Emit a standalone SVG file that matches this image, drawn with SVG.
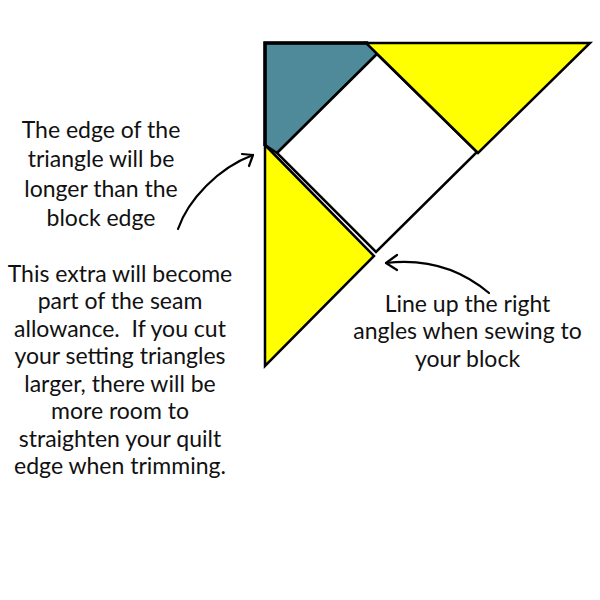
<svg xmlns="http://www.w3.org/2000/svg" width="600" height="600" viewBox="0 0 600 600">
  <style>
    .lbl { font-family: Lato, "Open Sans", "Liberation Sans", sans-serif; font-size: 23px; fill: #111; text-anchor: middle; }
    .edge { stroke: #000; stroke-width: 2.5; stroke-linejoin: miter; }
    .yellow { fill: #FFFF00; }
    .teal { fill: #4E8A9A; }
    .conn { fill: none; stroke: #000; stroke-width: 2.2; stroke-linecap: round; stroke-linejoin: round; }
  </style>
  <rect width="600" height="600" fill="#fff"/>

  <g id="corner-teal">
    <polygon class="teal edge" points="265,43 368,43 377,54 277,153 265,145"/>
  </g>
  <g id="block-square">
    <polygon fill="#fff" class="edge" points="377,54 477,152 376,252 277,153"/>
  </g>
  <g id="triangle-top">
    <polygon class="yellow edge" points="366,43 590,43 478,153"/>
  </g>
  <g id="triangle-left">
    <polygon class="yellow edge" points="265,145 374,256 265,366"/>
  </g>
  <g id="outer-frame">
    <polyline fill="none" stroke="#000" stroke-width="3.5" points="265,146 265,43 368,43"/>
  </g>

  <g id="label-edge">
    <text class="lbl" x="101" y="137.5">The edge of the</text>
    <text class="lbl" x="101" y="167">triangle will be</text>
    <text class="lbl" x="101" y="196.5">longer than the</text>
    <text class="lbl" x="101" y="226">block edge</text>
  </g>
  <g id="label-extra">
    <text class="lbl" x="120" y="281.5">This extra will become</text>
    <text class="lbl" x="120" y="309">part of the seam</text>
    <text class="lbl" x="120" y="336.5" xml:space="preserve">allowance.  If you cut</text>
    <text class="lbl" x="120" y="364">your setting triangles</text>
    <text class="lbl" x="120" y="391.5">larger, there will be</text>
    <text class="lbl" x="120" y="419">more room to</text>
    <text class="lbl" x="120" y="446.5">straighten your quilt</text>
    <text class="lbl" x="120" y="474">edge when trimming.</text>
  </g>
  <g id="label-lineup">
    <text class="lbl" x="467.5" y="311.5">Line up the right</text>
    <text class="lbl" x="467.5" y="339">angles when sewing to</text>
    <text class="lbl" x="467.5" y="366.5">your block</text>
  </g>

  <g id="connectors">
    <path class="conn" d="M178,229 C188,200 218,168 253,155"/>
    <polyline class="conn" points="242,154 253,155 249,166"/>
    <path class="conn" d="M489,293 Q445,256 386,263"/>
    <polyline class="conn" points="397,255 386,263 397,270"/>
  </g>
</svg>
